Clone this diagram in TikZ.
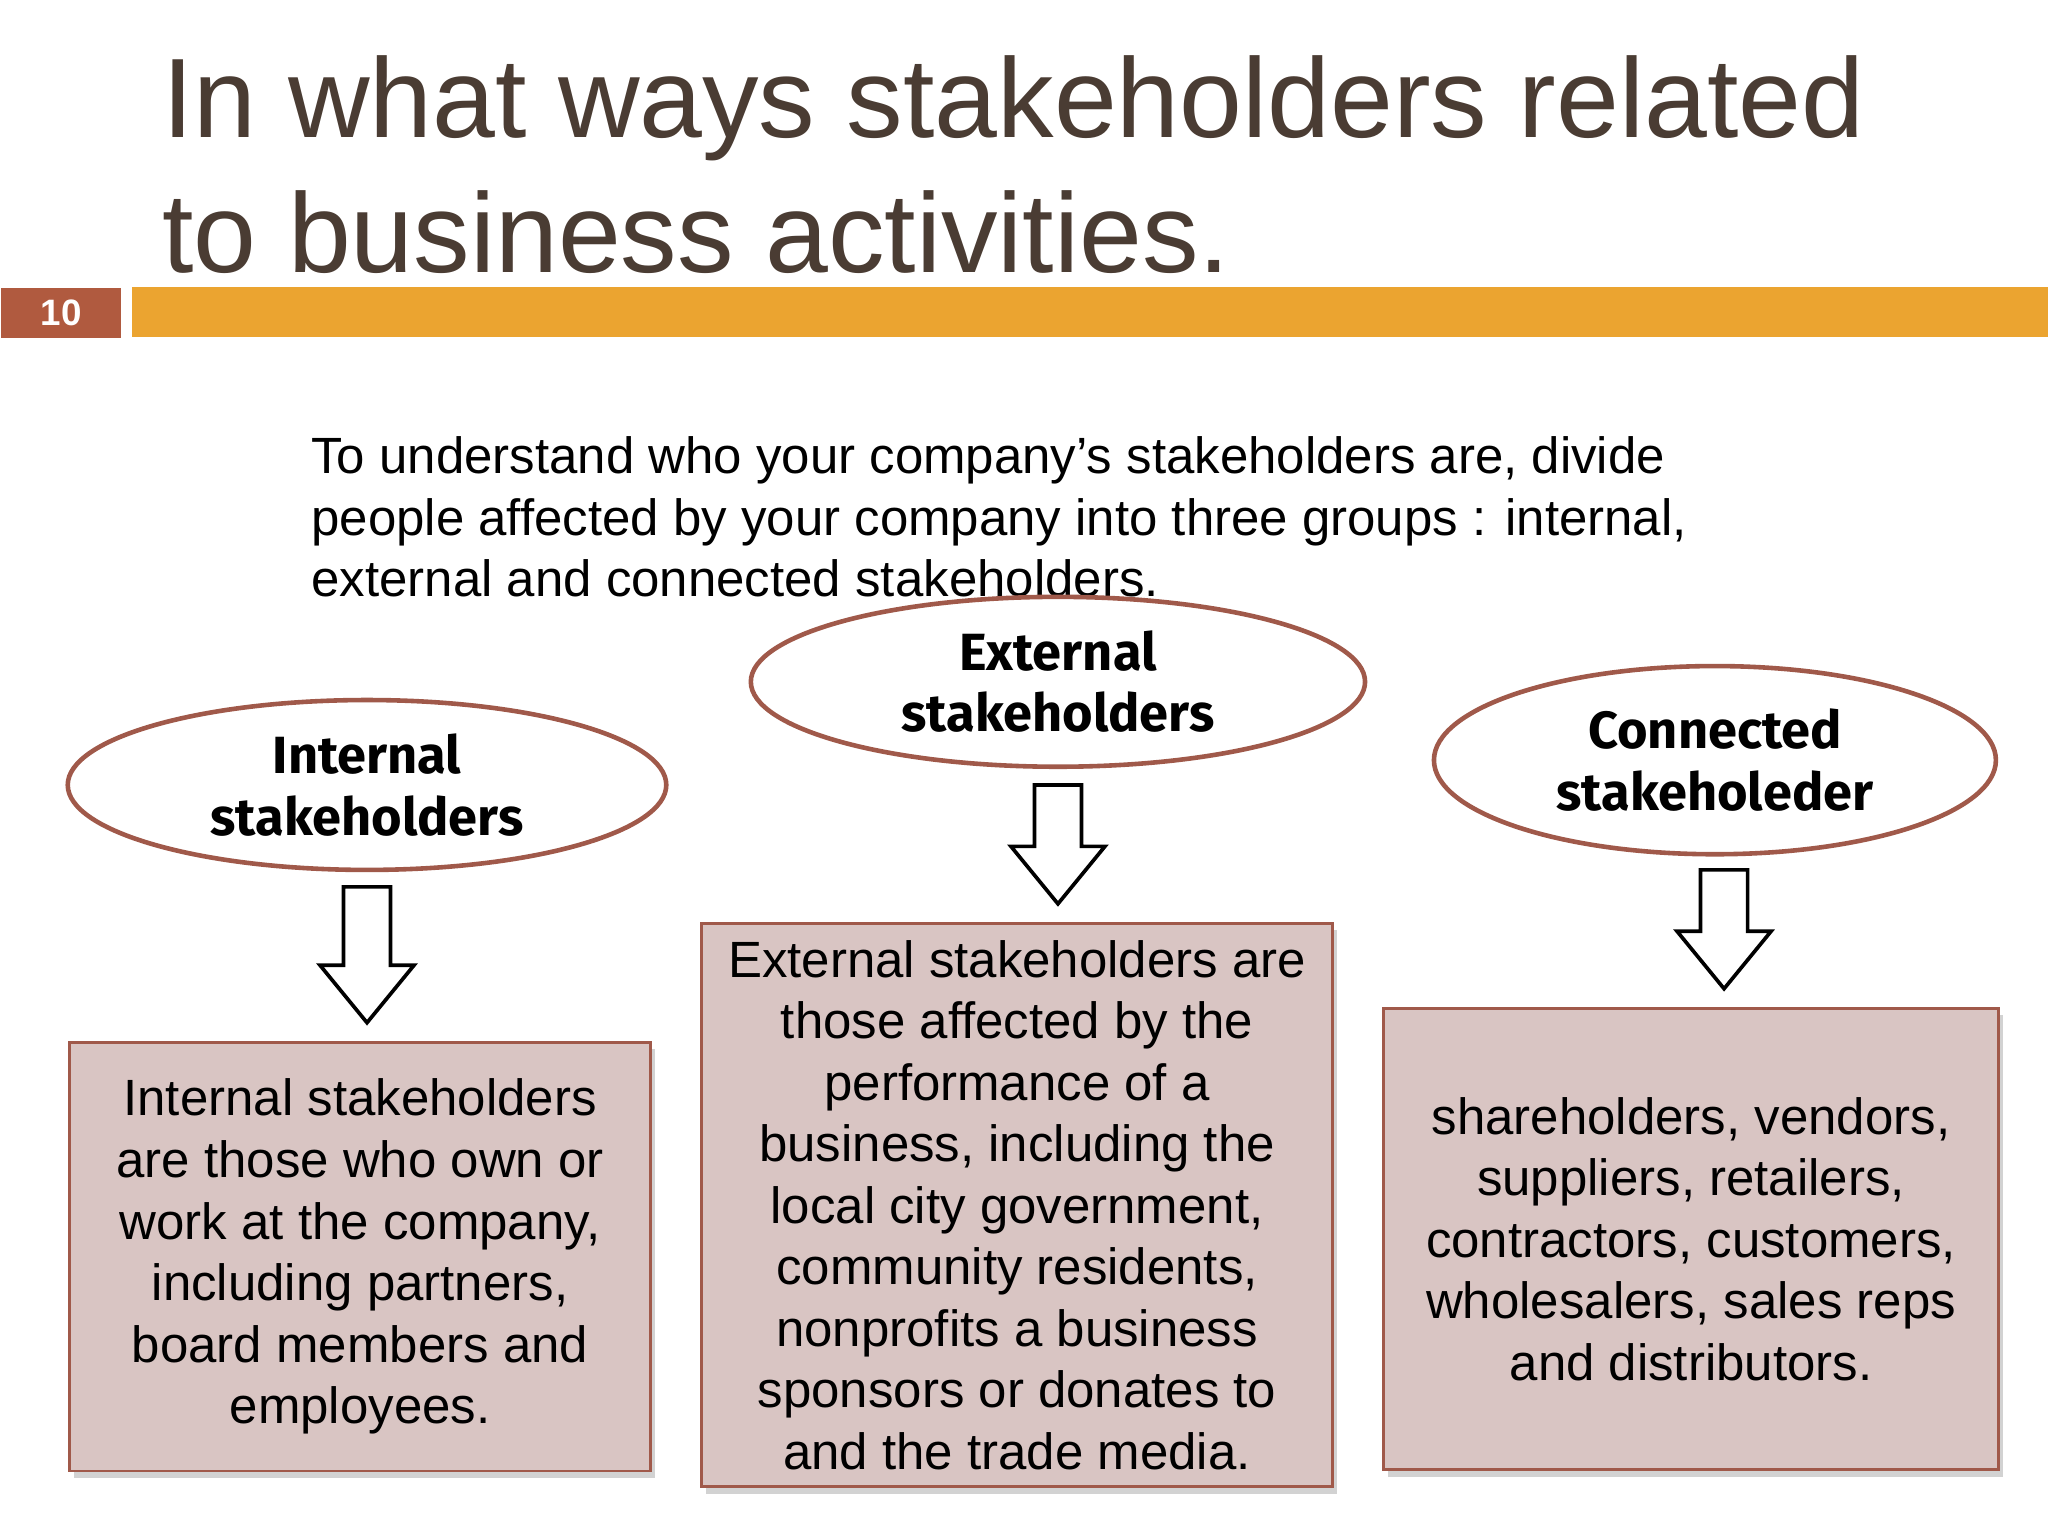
\documentclass[tikz,border=0pt]{standalone}
\usepackage{fontspec}
\setmainfont{Liberation Sans}
\newfontfamily\headfont{Fira Sans}
\usetikzlibrary{shapes.geometric,shadows}
\definecolor{titlebrown}{HTML}{4A3C33}
\definecolor{barorange}{HTML}{EBA430}
\definecolor{pagered}{HTML}{B05A3F}
\definecolor{rimbrown}{HTML}{A0594A}
\definecolor{boxfill}{HTML}{D9C5C3}

\begin{document}
\begin{tikzpicture}[x=0.01cm,y=-0.01cm]
    % `group' is used for the three ellipses.
    % `infobox' is used for the shaded text boxes.
    % `downarrow' is used for the hollow block arrows.
    \tikzstyle{group} = [draw=rimbrown,line width=1pt,ellipse,inner sep=0pt,
      font=\headfont\bfseries\fontsize{11.4}{13.4}\selectfont,align=center]
    \tikzstyle{infobox} = [draw=rimbrown,fill=boxfill,line width=0.6pt,anchor=north west,
      drop shadow={shadow xshift=1pt,shadow yshift=-1.5pt,fill=black!35},
      font=\fontsize{11.1}{13.4}\selectfont,align=center,inner sep=0pt]
    \tikzstyle{downarrow} = [draw=black,line width=0.8pt,fill=white]
    \useasboundingbox (0,0) rectangle (1568,1176);
    %
    \node[anchor=north west,align=left,text=titlebrown,font=\fontsize{24.6}{29.5}\selectfont]
      (title) at (112,30) {In what ways stakeholders related\\to business activities.};
    \fill[barorange] (101,220) rectangle (1568,258);
    \node[fill=pagered,minimum width=0.92cm,minimum height=0.38cm,inner sep=0pt,anchor=north west,
      text=white,font=\bfseries\fontsize{8}{9}\selectfont] (page) at (0,220) {10};
    \node[anchor=north west,align=left,font=\fontsize{11.1}{13.4}\selectfont] (intro) at (226,322)
      {To understand who your company’s stakeholders are, divide\\
       people affected by your company into three groups : internal,\\
       external and connected stakeholders.};
    %
    \node[group,minimum width=4.58cm,minimum height=1.3cm] (internal) at (281,601) {Internal\\stakeholders};
    \node[group,minimum width=4.7cm,minimum height=1.3cm] (external) at (810,522) {External\\stakeholders};
    \node[group,minimum width=4.3cm,minimum height=1.44cm] (connected) at (1313,582) {Connected\\stakeholeder};
    %
    \node[infobox,minimum width=4.45cm,minimum height=3.28cm] (internalbox) at (52,797)
      {Internal stakeholders\\are those who own or\\work at the company,\\including partners,\\board members and\\employees.};
    \node[infobox,minimum width=4.83cm,minimum height=4.31cm] (externalbox) at (536,706)
      {External stakeholders are\\those affected by the\\performance of a\\business, including the\\local city government,\\community residents,\\nonprofits a business\\sponsors or donates to\\and the trade media.};
    \node[infobox,minimum width=4.71cm,minimum height=3.53cm] (connectedbox) at (1058,771)
      {shareholders, vendors,\\suppliers, retailers,\\contractors, customers,\\wholesalers, sales reps\\and distributors.};
    %
    % Draw hollow arrows.
    \foreach \cx/\top/\tip in {281/679/783, 810/601/692, 1320/666/757}{
      \draw[downarrow] (\cx-18,\top) -- (\cx+18,\top) -- (\cx+18,\tip-44) -- (\cx+36,\tip-44)
        -- (\cx,\tip) -- (\cx-36,\tip-44) -- (\cx-18,\tip-44) -- cycle;
    }
\end{tikzpicture}
\end{document}
